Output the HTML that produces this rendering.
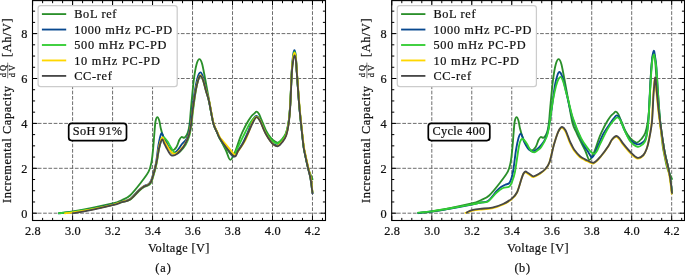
<!DOCTYPE html>
<html><head><meta charset="utf-8"><title>ICA</title>
<style>
html,body{margin:0;padding:0;background:#fff;}
body{width:685px;height:277px;overflow:hidden;}
svg{display:block;}
svg text{font-family:"Liberation Serif","DejaVu Serif",serif;font-size:12.3px;fill:#111;stroke:#111;stroke-width:0.22px;}
</style></head><body>
<svg width="685" height="277" viewBox="0 0 685 277">
<rect width="685" height="277" fill="#fff"/>
<g stroke="#484848" stroke-width="0.8" stroke-dasharray="3.7,1.6" fill="none"><line x1="72.60" y1="0.60" x2="72.60" y2="220.50"/><line x1="112.58" y1="0.60" x2="112.58" y2="220.50"/><line x1="152.56" y1="0.60" x2="152.56" y2="220.50"/><line x1="192.54" y1="0.60" x2="192.54" y2="220.50"/><line x1="232.52" y1="0.60" x2="232.52" y2="220.50"/><line x1="272.50" y1="0.60" x2="272.50" y2="220.50"/><line x1="312.48" y1="0.60" x2="312.48" y2="220.50"/><line x1="32.50" y1="213.20" x2="325.50" y2="213.20"/><line x1="32.50" y1="168.30" x2="325.50" y2="168.30"/><line x1="32.50" y1="123.40" x2="325.50" y2="123.40"/><line x1="32.50" y1="78.50" x2="325.50" y2="78.50"/><line x1="32.50" y1="33.60" x2="325.50" y2="33.60"/></g>
<path d="M59.00,213.20C61.30,212.92 67.30,212.37 72.80,211.50C78.30,210.63 85.37,209.33 92.00,208.00C98.63,206.67 107.60,204.83 112.60,203.50C117.60,202.17 119.10,201.33 122.00,200.00C124.90,198.67 126.83,198.42 130.00,195.50C133.17,192.58 137.90,186.47 141.00,182.50C144.10,178.53 146.85,175.12 148.60,171.70C150.35,168.28 150.73,165.95 151.50,162.00C152.27,158.05 152.72,152.83 153.20,148.00C153.68,143.17 154.02,137.42 154.40,133.00C154.78,128.58 155.02,124.13 155.50,121.50C155.98,118.87 156.67,117.32 157.30,117.20C157.93,117.08 158.72,118.92 159.30,120.80C159.88,122.68 160.10,125.72 160.80,128.50C161.50,131.28 162.63,135.08 163.50,137.50C164.37,139.92 165.17,141.42 166.00,143.00C166.83,144.58 167.42,145.78 168.50,147.00C169.58,148.22 171.17,150.30 172.50,150.30C173.83,150.30 175.37,148.72 176.50,147.00C177.63,145.28 178.47,141.67 179.30,140.00C180.13,138.33 180.60,137.40 181.50,137.00C182.40,136.60 183.65,138.33 184.70,137.60C185.75,136.87 186.97,135.03 187.80,132.60C188.63,130.17 189.17,127.10 189.70,123.00C190.23,118.90 190.32,115.17 191.00,108.00C191.68,100.83 192.88,87.25 193.80,80.00C194.72,72.75 195.58,67.98 196.50,64.50C197.42,61.02 198.38,59.27 199.30,59.10C200.22,58.93 201.05,60.35 202.00,63.50C202.95,66.65 203.83,71.92 205.00,78.00C206.17,84.08 207.62,92.50 209.00,100.00C210.38,107.50 211.97,117.67 213.30,123.00C214.63,128.33 215.93,129.52 217.00,132.00C218.07,134.48 218.20,134.82 219.70,137.90C221.20,140.98 224.23,146.85 226.00,150.50C227.77,154.15 228.73,159.72 230.30,159.80C231.87,159.88 233.70,154.88 235.40,151.00C237.10,147.12 238.92,140.50 240.50,136.50C242.08,132.50 243.57,129.67 244.90,127.00C246.23,124.33 247.38,122.33 248.50,120.50C249.62,118.67 250.65,117.15 251.60,116.00C252.55,114.85 253.37,114.32 254.20,113.60C255.03,112.88 255.80,111.63 256.60,111.70C257.40,111.77 258.20,112.70 259.00,114.00C259.80,115.30 260.20,116.70 261.40,119.50C262.60,122.30 264.60,127.68 266.20,130.80C267.80,133.92 269.42,136.35 271.00,138.20C272.58,140.05 274.53,141.18 275.70,141.90C276.87,142.62 276.92,142.98 278.00,142.50C279.08,142.02 280.87,140.58 282.20,139.00C283.53,137.42 284.93,135.83 286.00,133.00C287.07,130.17 287.90,126.67 288.60,122.00C289.30,117.33 289.67,113.33 290.20,105.00C290.73,96.67 291.30,79.83 291.80,72.00C292.30,64.17 292.75,61.00 293.20,58.00C293.65,55.00 294.07,54.00 294.50,54.00C294.93,54.00 295.42,55.00 295.80,58.00C296.18,61.00 296.42,66.67 296.80,72.00C297.18,77.33 297.67,84.17 298.10,90.00C298.53,95.83 298.92,101.50 299.40,107.00C299.88,112.50 300.33,116.67 301.00,123.00C301.67,129.33 302.80,140.17 303.40,145.00C304.00,149.83 303.80,148.10 304.60,152.00C305.40,155.90 306.88,163.87 308.20,168.40C309.52,172.93 311.78,177.40 312.50,179.20" fill="none" stroke="#2a8f2a" stroke-width="1.85" stroke-linejoin="round" stroke-linecap="round"/>
<path d="M59.00,213.40C61.30,213.17 67.30,212.73 72.80,212.00C78.30,211.27 85.37,210.25 92.00,209.00C98.63,207.75 107.60,205.75 112.60,204.50C117.60,203.25 119.10,202.42 122.00,201.50C124.90,200.58 127.17,200.92 130.00,199.00C132.83,197.08 136.67,192.17 139.00,190.00C141.33,187.83 142.58,186.88 144.00,186.00C145.42,185.12 146.50,185.28 147.50,184.70C148.50,184.12 149.25,183.62 150.00,182.50C150.75,181.38 151.00,181.25 152.00,178.00C153.00,174.75 154.92,168.50 156.00,163.00C157.08,157.50 157.62,149.90 158.50,145.00C159.38,140.10 160.47,134.93 161.30,133.60C162.13,132.27 162.65,135.52 163.50,137.00C164.35,138.48 165.32,140.33 166.40,142.50C167.48,144.67 168.90,148.17 170.00,150.00C171.10,151.83 171.83,153.33 173.00,153.50C174.17,153.67 175.50,152.58 177.00,151.00C178.50,149.42 180.40,146.00 182.00,144.00C183.60,142.00 185.35,141.33 186.60,139.00C187.85,136.67 188.68,134.00 189.50,130.00C190.32,126.00 190.67,121.17 191.50,115.00C192.33,108.83 193.48,99.25 194.50,93.00C195.52,86.75 196.62,80.93 197.60,77.50C198.58,74.07 199.50,72.48 200.40,72.40C201.30,72.32 202.07,74.07 203.00,77.00C203.93,79.93 205.00,86.00 206.00,90.00C207.00,94.00 207.78,95.50 209.00,101.00C210.22,106.50 211.97,117.83 213.30,123.00C214.63,128.17 215.93,129.50 217.00,132.00C218.07,134.50 218.20,135.50 219.70,138.00C221.20,140.50 223.83,143.97 226.00,147.00C228.17,150.03 231.03,155.20 232.70,156.20C234.37,157.20 234.45,154.95 236.00,153.00C237.55,151.05 240.08,147.83 242.00,144.50C243.92,141.17 245.83,136.83 247.50,133.00C249.17,129.17 250.55,124.33 252.00,121.50C253.45,118.67 254.87,116.25 256.20,116.00C257.53,115.75 258.87,118.17 260.00,120.00C261.13,121.83 262.00,124.75 263.00,127.00C264.00,129.25 264.83,131.33 266.00,133.50C267.17,135.67 268.75,138.25 270.00,140.00C271.25,141.75 272.23,143.13 273.50,144.00C274.77,144.87 276.18,145.62 277.60,145.20C279.02,144.78 280.60,143.20 282.00,141.50C283.40,139.80 284.90,138.08 286.00,135.00C287.10,131.92 287.90,128.00 288.60,123.00C289.30,118.00 289.67,113.83 290.20,105.00C290.73,96.17 291.32,78.33 291.80,70.00C292.28,61.67 292.67,58.30 293.10,55.00C293.53,51.70 293.97,50.20 294.40,50.20C294.83,50.20 295.30,51.53 295.70,55.00C296.10,58.47 296.40,65.17 296.80,71.00C297.20,76.83 297.67,84.00 298.10,90.00C298.53,96.00 298.92,101.50 299.40,107.00C299.88,112.50 300.33,116.67 301.00,123.00C301.67,129.33 302.80,140.17 303.40,145.00C304.00,149.83 303.80,148.10 304.60,152.00C305.40,155.90 307.22,164.07 308.20,168.40C309.18,172.73 309.78,173.85 310.50,178.00C311.22,182.15 312.17,190.75 312.50,193.30" fill="none" stroke="#08488f" stroke-width="1.85" stroke-linejoin="round" stroke-linecap="round"/>
<path d="M59.00,213.20C61.30,212.97 67.30,212.50 72.80,211.80C78.30,211.10 85.37,210.17 92.00,209.00C98.63,207.83 107.60,205.97 112.60,204.80C117.60,203.63 119.10,202.83 122.00,202.00C124.90,201.17 127.17,201.63 130.00,199.80C132.83,197.97 136.67,193.13 139.00,191.00C141.33,188.87 142.50,187.92 144.00,187.00C145.50,186.08 146.92,186.08 148.00,185.50C149.08,184.92 149.75,184.58 150.50,183.50C151.25,182.42 151.50,182.25 152.50,179.00C153.50,175.75 155.42,169.00 156.50,164.00C157.58,159.00 158.20,153.00 159.00,149.00C159.80,145.00 160.63,141.97 161.30,140.00C161.97,138.03 162.45,137.57 163.00,137.20C163.55,136.83 163.83,137.07 164.60,137.80C165.37,138.53 166.53,139.98 167.60,141.60C168.67,143.22 169.93,145.77 171.00,147.50C172.07,149.23 173.08,150.98 174.00,152.00C174.92,153.02 175.50,153.68 176.50,153.60C177.50,153.52 178.50,152.93 180.00,151.50C181.50,150.07 183.95,147.58 185.50,145.00C187.05,142.42 188.32,139.33 189.30,136.00C190.28,132.67 190.78,129.17 191.40,125.00C192.02,120.83 192.30,116.50 193.00,111.00C193.70,105.50 194.73,97.17 195.60,92.00C196.47,86.83 197.37,82.62 198.20,80.00C199.03,77.38 199.80,76.30 200.60,76.30C201.40,76.30 202.10,77.55 203.00,80.00C203.90,82.45 205.00,87.45 206.00,91.00C207.00,94.55 207.78,95.97 209.00,101.30C210.22,106.63 211.97,117.88 213.30,123.00C214.63,128.12 215.93,129.42 217.00,132.00C218.07,134.58 218.20,135.83 219.70,138.50C221.20,141.17 223.70,145.17 226.00,148.00C228.30,150.83 231.67,155.33 233.50,155.50C235.33,155.67 235.37,152.22 237.00,149.00C238.63,145.78 241.30,140.22 243.30,136.20C245.30,132.18 247.47,127.68 249.00,124.90C250.53,122.12 251.25,120.88 252.50,119.50C253.75,118.12 255.25,116.52 256.50,116.60C257.75,116.68 258.92,118.35 260.00,120.00C261.08,121.65 262.00,124.37 263.00,126.50C264.00,128.63 264.75,130.72 266.00,132.80C267.25,134.88 269.08,137.38 270.50,139.00C271.92,140.62 273.25,141.78 274.50,142.50C275.75,143.22 276.72,143.78 278.00,143.30C279.28,142.82 280.87,141.23 282.20,139.60C283.53,137.97 284.93,136.35 286.00,133.50C287.07,130.65 287.90,127.25 288.60,122.50C289.30,117.75 289.67,113.58 290.20,105.00C290.73,96.42 291.30,79.00 291.80,71.00C292.30,63.00 292.75,60.17 293.20,57.00C293.65,53.83 294.07,52.00 294.50,52.00C294.93,52.00 295.42,53.67 295.80,57.00C296.18,60.33 296.42,66.50 296.80,72.00C297.18,77.50 297.67,84.17 298.10,90.00C298.53,95.83 298.92,101.50 299.40,107.00C299.88,112.50 300.33,116.67 301.00,123.00C301.67,129.33 302.80,140.17 303.40,145.00C304.00,149.83 303.80,148.10 304.60,152.00C305.40,155.90 307.22,164.07 308.20,168.40C309.18,172.73 309.78,173.98 310.50,178.00C311.22,182.02 312.17,190.08 312.50,192.50" fill="none" stroke="#32CD32" stroke-width="1.85" stroke-linejoin="round" stroke-linecap="round"/>
<path d="M65.00,213.30C66.30,213.15 68.30,213.07 72.80,212.40C77.30,211.73 85.37,210.57 92.00,209.30C98.63,208.03 107.60,206.05 112.60,204.80C117.60,203.55 119.10,202.72 122.00,201.80C124.90,200.88 127.17,201.20 130.00,199.30C132.83,197.40 136.67,192.55 139.00,190.40C141.33,188.25 142.53,187.30 144.00,186.40C145.47,185.50 146.75,185.60 147.80,185.00C148.85,184.40 149.55,183.92 150.30,182.80C151.05,181.68 151.30,181.55 152.30,178.30C153.30,175.05 155.18,168.52 156.30,163.30C157.42,158.08 158.05,151.28 159.00,147.00C159.95,142.72 161.08,138.52 162.00,137.60C162.92,136.68 163.33,139.60 164.50,141.50C165.67,143.40 167.63,147.02 169.00,149.00C170.37,150.98 171.53,152.65 172.70,153.40C173.87,154.15 174.75,154.07 176.00,153.50C177.25,152.93 178.65,151.67 180.20,150.00C181.75,148.33 183.83,146.08 185.30,143.50C186.77,140.92 188.05,137.75 189.00,134.50C189.95,131.25 190.38,128.00 191.00,124.00C191.62,120.00 191.95,116.00 192.70,110.50C193.45,105.00 194.57,96.20 195.50,91.00C196.43,85.80 197.47,81.92 198.30,79.30C199.13,76.68 199.72,75.27 200.50,75.30C201.28,75.33 202.08,76.97 203.00,79.50C203.92,82.03 204.97,86.92 206.00,90.50C207.03,94.08 207.95,95.58 209.20,101.00C210.45,106.42 212.15,117.83 213.50,123.00C214.85,128.17 216.18,129.50 217.30,132.00C218.42,134.50 219.25,136.50 220.20,138.00C221.15,139.50 221.18,138.87 223.00,141.00C224.82,143.13 229.07,148.48 231.10,150.80C233.13,153.12 233.88,155.03 235.20,154.90C236.52,154.77 237.38,152.30 239.00,150.00C240.62,147.70 243.23,144.20 244.90,141.10C246.57,138.00 247.72,134.58 249.00,131.40C250.28,128.22 251.35,124.40 252.60,122.00C253.85,119.60 255.27,117.25 256.50,117.00C257.73,116.75 258.92,118.75 260.00,120.50C261.08,122.25 262.00,125.25 263.00,127.50C264.00,129.75 264.83,131.83 266.00,134.00C267.17,136.17 268.75,138.75 270.00,140.50C271.25,142.25 272.33,143.58 273.50,144.50C274.67,145.42 275.58,146.42 277.00,146.00C278.42,145.58 280.50,143.75 282.00,142.00C283.50,140.25 284.90,138.58 286.00,135.50C287.10,132.42 287.90,128.50 288.60,123.50C289.30,118.50 289.67,114.25 290.20,105.50C290.73,96.75 291.32,78.92 291.80,71.00C292.28,63.08 292.65,61.00 293.10,58.00C293.55,55.00 294.03,53.00 294.50,53.00C294.97,53.00 295.50,54.83 295.90,58.00C296.30,61.17 296.50,66.67 296.90,72.00C297.30,77.33 297.85,84.17 298.30,90.00C298.75,95.83 299.12,101.50 299.60,107.00C300.08,112.50 300.52,116.67 301.20,123.00C301.88,129.33 303.08,140.17 303.70,145.00C304.32,149.83 304.10,148.10 304.90,152.00C305.70,155.90 307.52,164.07 308.50,168.40C309.48,172.73 310.13,174.07 310.80,178.00C311.47,181.93 312.22,189.67 312.50,192.00" fill="none" stroke="#FFD700" stroke-width="1.85" stroke-linejoin="round" stroke-linecap="round"/>
<path d="M72.80,213.20C76.00,212.63 85.37,211.13 92.00,209.80C98.63,208.47 107.60,206.47 112.60,205.20C117.60,203.93 119.10,203.13 122.00,202.20C124.90,201.27 127.17,201.53 130.00,199.60C132.83,197.67 136.67,192.77 139.00,190.60C141.33,188.43 142.53,187.50 144.00,186.60C145.47,185.70 146.75,185.80 147.80,185.20C148.85,184.60 149.55,184.12 150.30,183.00C151.05,181.88 151.30,181.75 152.30,178.50C153.30,175.25 155.18,168.50 156.30,163.50C157.42,158.50 158.05,152.50 159.00,148.50C159.95,144.50 161.17,140.42 162.00,139.50C162.83,138.58 163.27,141.63 164.00,143.00C164.73,144.37 165.57,146.12 166.40,147.70C167.23,149.28 168.17,151.23 169.00,152.50C169.83,153.77 170.37,154.88 171.40,155.30C172.43,155.72 173.73,155.72 175.20,155.00C176.67,154.28 178.52,152.83 180.20,151.00C181.88,149.17 183.83,146.67 185.30,144.00C186.77,141.33 188.05,138.17 189.00,135.00C189.95,131.83 190.40,129.00 191.00,125.00C191.60,121.00 191.85,116.58 192.60,111.00C193.35,105.42 194.55,96.70 195.50,91.50C196.45,86.30 197.48,82.42 198.30,79.80C199.12,77.18 199.62,75.77 200.40,75.80C201.18,75.83 202.07,77.47 203.00,80.00C203.93,82.53 205.00,87.47 206.00,91.00C207.00,94.53 207.78,95.83 209.00,101.20C210.22,106.57 211.97,118.03 213.30,123.20C214.63,128.37 215.93,129.68 217.00,132.20C218.07,134.72 218.20,135.78 219.70,138.30C221.20,140.82 223.55,144.27 226.00,147.30C228.45,150.33 232.40,155.88 234.40,156.50C236.40,157.12 236.65,153.02 238.00,151.00C239.35,148.98 240.82,147.40 242.50,144.40C244.18,141.40 246.35,136.68 248.10,133.00C249.85,129.32 251.60,124.93 253.00,122.30C254.40,119.67 255.33,117.42 256.50,117.20C257.67,116.98 258.92,119.23 260.00,121.00C261.08,122.77 262.00,125.60 263.00,127.80C264.00,130.00 264.83,132.07 266.00,134.20C267.17,136.33 268.75,138.87 270.00,140.60C271.25,142.33 272.17,143.67 273.50,144.60C274.83,145.53 276.52,146.63 278.00,146.20C279.48,145.77 281.03,143.78 282.40,142.00C283.77,140.22 285.15,138.58 286.20,135.50C287.25,132.42 288.02,128.50 288.70,123.50C289.38,118.50 289.77,114.08 290.30,105.50C290.83,96.92 291.40,79.58 291.90,72.00C292.40,64.42 292.85,62.78 293.30,60.00C293.75,57.22 294.17,55.30 294.60,55.30C295.03,55.30 295.53,57.05 295.90,60.00C296.27,62.95 296.43,67.92 296.80,73.00C297.17,78.08 297.67,84.75 298.10,90.50C298.53,96.25 298.92,102.00 299.40,107.50C299.88,113.00 300.33,117.17 301.00,123.50C301.67,129.83 302.80,140.67 303.40,145.50C304.00,150.33 303.80,148.62 304.60,152.50C305.40,156.38 307.22,164.47 308.20,168.80C309.18,173.13 309.78,174.42 310.50,178.50C311.22,182.58 312.17,190.83 312.50,193.30" fill="none" stroke="#474747" stroke-width="1.85" stroke-linejoin="round" stroke-linecap="round"/>
<g stroke="#000" stroke-width="1"><line x1="32.62" y1="220.50" x2="32.62" y2="215.70"/><line x1="32.62" y1="0.60" x2="32.62" y2="5.40"/><line x1="42.61" y1="220.50" x2="42.61" y2="217.90"/><line x1="42.61" y1="0.60" x2="42.61" y2="3.20"/><line x1="52.61" y1="220.50" x2="52.61" y2="217.90"/><line x1="52.61" y1="0.60" x2="52.61" y2="3.20"/><line x1="62.60" y1="220.50" x2="62.60" y2="217.90"/><line x1="62.60" y1="0.60" x2="62.60" y2="3.20"/><line x1="72.60" y1="220.50" x2="72.60" y2="215.70"/><line x1="72.60" y1="0.60" x2="72.60" y2="5.40"/><line x1="82.59" y1="220.50" x2="82.59" y2="217.90"/><line x1="82.59" y1="0.60" x2="82.59" y2="3.20"/><line x1="92.59" y1="220.50" x2="92.59" y2="217.90"/><line x1="92.59" y1="0.60" x2="92.59" y2="3.20"/><line x1="102.58" y1="220.50" x2="102.58" y2="217.90"/><line x1="102.58" y1="0.60" x2="102.58" y2="3.20"/><line x1="112.58" y1="220.50" x2="112.58" y2="215.70"/><line x1="112.58" y1="0.60" x2="112.58" y2="5.40"/><line x1="122.57" y1="220.50" x2="122.57" y2="217.90"/><line x1="122.57" y1="0.60" x2="122.57" y2="3.20"/><line x1="132.57" y1="220.50" x2="132.57" y2="217.90"/><line x1="132.57" y1="0.60" x2="132.57" y2="3.20"/><line x1="142.56" y1="220.50" x2="142.56" y2="217.90"/><line x1="142.56" y1="0.60" x2="142.56" y2="3.20"/><line x1="152.56" y1="220.50" x2="152.56" y2="215.70"/><line x1="152.56" y1="0.60" x2="152.56" y2="5.40"/><line x1="162.55" y1="220.50" x2="162.55" y2="217.90"/><line x1="162.55" y1="0.60" x2="162.55" y2="3.20"/><line x1="172.55" y1="220.50" x2="172.55" y2="217.90"/><line x1="172.55" y1="0.60" x2="172.55" y2="3.20"/><line x1="182.54" y1="220.50" x2="182.54" y2="217.90"/><line x1="182.54" y1="0.60" x2="182.54" y2="3.20"/><line x1="192.54" y1="220.50" x2="192.54" y2="215.70"/><line x1="192.54" y1="0.60" x2="192.54" y2="5.40"/><line x1="202.53" y1="220.50" x2="202.53" y2="217.90"/><line x1="202.53" y1="0.60" x2="202.53" y2="3.20"/><line x1="212.53" y1="220.50" x2="212.53" y2="217.90"/><line x1="212.53" y1="0.60" x2="212.53" y2="3.20"/><line x1="222.53" y1="220.50" x2="222.53" y2="217.90"/><line x1="222.53" y1="0.60" x2="222.53" y2="3.20"/><line x1="232.52" y1="220.50" x2="232.52" y2="215.70"/><line x1="232.52" y1="0.60" x2="232.52" y2="5.40"/><line x1="242.51" y1="220.50" x2="242.51" y2="217.90"/><line x1="242.51" y1="0.60" x2="242.51" y2="3.20"/><line x1="252.51" y1="220.50" x2="252.51" y2="217.90"/><line x1="252.51" y1="0.60" x2="252.51" y2="3.20"/><line x1="262.50" y1="220.50" x2="262.50" y2="217.90"/><line x1="262.50" y1="0.60" x2="262.50" y2="3.20"/><line x1="272.50" y1="220.50" x2="272.50" y2="215.70"/><line x1="272.50" y1="0.60" x2="272.50" y2="5.40"/><line x1="282.50" y1="220.50" x2="282.50" y2="217.90"/><line x1="282.50" y1="0.60" x2="282.50" y2="3.20"/><line x1="292.49" y1="220.50" x2="292.49" y2="217.90"/><line x1="292.49" y1="0.60" x2="292.49" y2="3.20"/><line x1="302.49" y1="220.50" x2="302.49" y2="217.90"/><line x1="302.49" y1="0.60" x2="302.49" y2="3.20"/><line x1="312.48" y1="220.50" x2="312.48" y2="215.70"/><line x1="312.48" y1="0.60" x2="312.48" y2="5.40"/><line x1="322.48" y1="220.50" x2="322.48" y2="217.90"/><line x1="322.48" y1="0.60" x2="322.48" y2="3.20"/><line x1="32.50" y1="213.20" x2="37.30" y2="213.20"/><line x1="325.50" y1="213.20" x2="320.70" y2="213.20"/><line x1="32.50" y1="201.97" x2="35.10" y2="201.97"/><line x1="325.50" y1="201.97" x2="322.90" y2="201.97"/><line x1="32.50" y1="190.75" x2="35.10" y2="190.75"/><line x1="325.50" y1="190.75" x2="322.90" y2="190.75"/><line x1="32.50" y1="179.52" x2="35.10" y2="179.52"/><line x1="325.50" y1="179.52" x2="322.90" y2="179.52"/><line x1="32.50" y1="168.30" x2="37.30" y2="168.30"/><line x1="325.50" y1="168.30" x2="320.70" y2="168.30"/><line x1="32.50" y1="157.07" x2="35.10" y2="157.07"/><line x1="325.50" y1="157.07" x2="322.90" y2="157.07"/><line x1="32.50" y1="145.85" x2="35.10" y2="145.85"/><line x1="325.50" y1="145.85" x2="322.90" y2="145.85"/><line x1="32.50" y1="134.62" x2="35.10" y2="134.62"/><line x1="325.50" y1="134.62" x2="322.90" y2="134.62"/><line x1="32.50" y1="123.40" x2="37.30" y2="123.40"/><line x1="325.50" y1="123.40" x2="320.70" y2="123.40"/><line x1="32.50" y1="112.17" x2="35.10" y2="112.17"/><line x1="325.50" y1="112.17" x2="322.90" y2="112.17"/><line x1="32.50" y1="100.95" x2="35.10" y2="100.95"/><line x1="325.50" y1="100.95" x2="322.90" y2="100.95"/><line x1="32.50" y1="89.72" x2="35.10" y2="89.72"/><line x1="325.50" y1="89.72" x2="322.90" y2="89.72"/><line x1="32.50" y1="78.50" x2="37.30" y2="78.50"/><line x1="325.50" y1="78.50" x2="320.70" y2="78.50"/><line x1="32.50" y1="67.28" x2="35.10" y2="67.28"/><line x1="325.50" y1="67.28" x2="322.90" y2="67.28"/><line x1="32.50" y1="56.05" x2="35.10" y2="56.05"/><line x1="325.50" y1="56.05" x2="322.90" y2="56.05"/><line x1="32.50" y1="44.82" x2="35.10" y2="44.82"/><line x1="325.50" y1="44.82" x2="322.90" y2="44.82"/><line x1="32.50" y1="33.60" x2="37.30" y2="33.60"/><line x1="325.50" y1="33.60" x2="320.70" y2="33.60"/><line x1="32.50" y1="22.38" x2="35.10" y2="22.38"/><line x1="325.50" y1="22.38" x2="322.90" y2="22.38"/><line x1="32.50" y1="11.15" x2="35.10" y2="11.15"/><line x1="325.50" y1="11.15" x2="322.90" y2="11.15"/></g>
<rect x="32.50" y="0.60" width="293.00" height="219.90" fill="none" stroke="#000" stroke-width="1.1"/>
<text x="32.82" y="234.6" text-anchor="middle" textLength="15.7">2.8</text>
<text x="72.80" y="234.6" text-anchor="middle" textLength="15.7">3.0</text>
<text x="112.78" y="234.6" text-anchor="middle" textLength="15.7">3.2</text>
<text x="152.76" y="234.6" text-anchor="middle" textLength="15.7">3.4</text>
<text x="192.74" y="234.6" text-anchor="middle" textLength="15.7">3.6</text>
<text x="232.72" y="234.6" text-anchor="middle" textLength="15.7">3.8</text>
<text x="272.70" y="234.6" text-anchor="middle" textLength="15.7">4.0</text>
<text x="312.68" y="234.6" text-anchor="middle" textLength="15.7">4.2</text>
<text x="27.40" y="217.50" text-anchor="end">0</text>
<text x="27.40" y="172.60" text-anchor="end">2</text>
<text x="27.40" y="127.70" text-anchor="end">4</text>
<text x="27.40" y="82.80" text-anchor="end">6</text>
<text x="27.40" y="37.90" text-anchor="end">8</text>
<text x="147.90" y="251.6" textLength="61.5">Voltage [V]</text>
<text x="155.20" y="272.3" textLength="15.6">(a)</text>
<g transform="translate(10.60,203) rotate(-90)">
<text x="0" y="0" textLength="117">Incremental Capacity</text>
<text x="125.8" y="-4.4" style="font-size:8.4px" textLength="12.4">dQ</text>
<line x1="124.7" y1="-2.9" x2="140.4" y2="-2.9" stroke="#222" stroke-width="0.6"/>
<text x="125.8" y="4.0" style="font-size:8.4px" textLength="12.4">dV</text>
<text x="146" y="0" textLength="38.6">[Ah/V]</text>
</g>
<rect x="38.10" y="5.6" width="139.1" height="80.9" rx="2.6" ry="2.6" fill="#fff" fill-opacity="1" stroke="#ccc" stroke-width="1.25"/>
<line x1="41.90" y1="14.10" x2="66.20" y2="14.10" stroke="#2a8f2a" stroke-width="1.85"/>
<text x="74.20" y="18.30" textLength="42.2">BoL ref</text>
<line x1="41.90" y1="29.55" x2="66.20" y2="29.55" stroke="#08488f" stroke-width="1.85"/>
<text x="74.20" y="33.75" textLength="98.0">1000 mHz PC-PD</text>
<line x1="41.90" y1="45.00" x2="66.20" y2="45.00" stroke="#32CD32" stroke-width="1.85"/>
<text x="74.20" y="49.20" textLength="92.2">500 mHz PC-PD</text>
<line x1="41.90" y1="60.45" x2="66.20" y2="60.45" stroke="#FFD700" stroke-width="1.85"/>
<text x="74.20" y="64.65" textLength="85.6">10 mHz PC-PD</text>
<line x1="41.90" y1="75.90" x2="66.20" y2="75.90" stroke="#474747" stroke-width="1.85"/>
<text x="74.20" y="80.10" textLength="37.6">CC-ref</text>
<rect x="68.70" y="123.3" width="57.80" height="17.3" rx="3" ry="3" fill="#fff" stroke="#000" stroke-width="1.7"/>
<text x="72.80" y="135.1" textLength="49.3">SoH 91%</text>
<g stroke="#484848" stroke-width="0.8" stroke-dasharray="3.7,1.6" fill="none"><line x1="431.80" y1="0.60" x2="431.80" y2="220.50"/><line x1="471.78" y1="0.60" x2="471.78" y2="220.50"/><line x1="511.76" y1="0.60" x2="511.76" y2="220.50"/><line x1="551.74" y1="0.60" x2="551.74" y2="220.50"/><line x1="591.72" y1="0.60" x2="591.72" y2="220.50"/><line x1="631.70" y1="0.60" x2="631.70" y2="220.50"/><line x1="671.68" y1="0.60" x2="671.68" y2="220.50"/><line x1="391.70" y1="213.20" x2="684.50" y2="213.20"/><line x1="391.70" y1="168.30" x2="684.50" y2="168.30"/><line x1="391.70" y1="123.40" x2="684.50" y2="123.40"/><line x1="391.70" y1="78.50" x2="684.50" y2="78.50"/><line x1="391.70" y1="33.60" x2="684.50" y2="33.60"/></g>
<path d="M418.20,213.20C420.50,212.92 426.50,212.37 432.00,211.50C437.50,210.63 444.57,209.33 451.20,208.00C457.83,206.67 466.80,204.83 471.80,203.50C476.80,202.17 478.30,201.33 481.20,200.00C484.10,198.67 486.03,198.42 489.20,195.50C492.37,192.58 497.10,186.47 500.20,182.50C503.30,178.53 506.05,175.12 507.80,171.70C509.55,168.28 509.93,165.95 510.70,162.00C511.47,158.05 511.92,152.83 512.40,148.00C512.88,143.17 513.22,137.42 513.60,133.00C513.98,128.58 514.22,124.13 514.70,121.50C515.18,118.87 515.87,117.32 516.50,117.20C517.13,117.08 517.92,118.92 518.50,120.80C519.08,122.68 519.30,125.72 520.00,128.50C520.70,131.28 521.83,135.08 522.70,137.50C523.57,139.92 524.37,141.42 525.20,143.00C526.03,144.58 526.62,145.78 527.70,147.00C528.78,148.22 530.37,150.30 531.70,150.30C533.03,150.30 534.57,148.72 535.70,147.00C536.83,145.28 537.67,141.67 538.50,140.00C539.33,138.33 539.80,137.40 540.70,137.00C541.60,136.60 542.85,138.33 543.90,137.60C544.95,136.87 546.17,135.03 547.00,132.60C547.83,130.17 548.37,127.10 548.90,123.00C549.43,118.90 549.52,115.17 550.20,108.00C550.88,100.83 552.08,87.25 553.00,80.00C553.92,72.75 554.78,67.98 555.70,64.50C556.62,61.02 557.58,59.27 558.50,59.10C559.42,58.93 560.25,60.35 561.20,63.50C562.15,66.65 563.03,71.92 564.20,78.00C565.37,84.08 566.82,92.50 568.20,100.00C569.58,107.50 571.17,117.67 572.50,123.00C573.83,128.33 575.13,129.52 576.20,132.00C577.27,134.48 577.40,134.82 578.90,137.90C580.40,140.98 583.43,146.85 585.20,150.50C586.97,154.15 587.93,159.72 589.50,159.80C591.07,159.88 592.90,154.88 594.60,151.00C596.30,147.12 598.12,140.50 599.70,136.50C601.28,132.50 602.77,129.67 604.10,127.00C605.43,124.33 606.58,122.33 607.70,120.50C608.82,118.67 609.85,117.15 610.80,116.00C611.75,114.85 612.57,114.32 613.40,113.60C614.23,112.88 615.00,111.63 615.80,111.70C616.60,111.77 617.40,112.70 618.20,114.00C619.00,115.30 619.40,116.70 620.60,119.50C621.80,122.30 623.80,127.68 625.40,130.80C627.00,133.92 628.62,136.35 630.20,138.20C631.78,140.05 633.73,141.18 634.90,141.90C636.07,142.62 636.12,142.98 637.20,142.50C638.28,142.02 640.07,140.58 641.40,139.00C642.73,137.42 644.13,135.83 645.20,133.00C646.27,130.17 647.10,126.67 647.80,122.00C648.50,117.33 648.87,113.33 649.40,105.00C649.93,96.67 650.50,79.83 651.00,72.00C651.50,64.17 651.95,61.00 652.40,58.00C652.85,55.00 653.27,54.00 653.70,54.00C654.13,54.00 654.62,55.00 655.00,58.00C655.38,61.00 655.62,66.67 656.00,72.00C656.38,77.33 656.87,84.17 657.30,90.00C657.73,95.83 658.12,101.50 658.60,107.00C659.08,112.50 659.53,116.67 660.20,123.00C660.87,129.33 662.00,140.17 662.60,145.00C663.20,149.83 663.00,148.10 663.80,152.00C664.60,155.90 666.03,163.90 667.40,168.40C668.77,172.90 671.23,177.23 672.00,179.00" fill="none" stroke="#2a8f2a" stroke-width="1.85" stroke-linejoin="round" stroke-linecap="round"/>
<path d="M418.20,212.80C420.45,212.58 426.07,212.25 431.70,211.50C437.33,210.75 445.33,209.45 452.00,208.30C458.67,207.15 466.87,205.57 471.70,204.60C476.53,203.63 478.28,203.10 481.00,202.50C483.72,201.90 485.38,202.92 488.00,201.00C490.62,199.08 494.53,193.33 496.70,191.00C498.87,188.67 499.57,188.05 501.00,187.00C502.43,185.95 503.85,185.45 505.30,184.70C506.75,183.95 508.42,184.67 509.70,182.50C510.98,180.33 511.95,177.12 513.00,171.70C514.05,166.28 515.08,155.62 516.00,150.00C516.92,144.38 517.72,140.73 518.50,138.00C519.28,135.27 520.03,133.77 520.70,133.60C521.37,133.43 521.90,135.57 522.50,137.00C523.10,138.43 523.40,140.28 524.30,142.20C525.20,144.12 526.78,147.03 527.90,148.50C529.02,149.97 530.10,150.52 531.00,151.00C531.90,151.48 532.30,151.68 533.30,151.40C534.30,151.12 535.80,150.23 537.00,149.30C538.20,148.37 539.32,147.13 540.50,145.80C541.68,144.47 542.92,143.52 544.10,141.30C545.28,139.08 546.62,136.05 547.60,132.50C548.58,128.95 549.27,124.33 550.00,120.00C550.73,115.67 551.17,112.33 552.00,106.50C552.83,100.67 554.08,90.25 555.00,85.00C555.92,79.75 556.75,77.17 557.50,75.00C558.25,72.83 558.75,71.83 559.50,72.00C560.25,72.17 561.08,73.50 562.00,76.00C562.92,78.50 564.00,83.00 565.00,87.00C566.00,91.00 566.78,94.95 568.00,100.00C569.22,105.05 570.63,111.88 572.30,117.30C573.97,122.72 576.08,127.88 578.00,132.50C579.92,137.12 582.20,141.92 583.80,145.00C585.40,148.08 586.48,149.17 587.60,151.00C588.72,152.83 589.75,154.93 590.50,156.00C591.25,157.07 591.43,157.73 592.10,157.40C592.77,157.07 593.45,156.10 594.50,154.00C595.55,151.90 596.85,148.30 598.40,144.80C599.95,141.30 601.85,136.55 603.80,133.00C605.75,129.45 608.40,125.97 610.10,123.50C611.80,121.03 612.88,119.55 614.00,118.20C615.12,116.85 615.80,115.27 616.80,115.40C617.80,115.53 618.70,116.50 620.00,119.00C621.30,121.50 622.87,126.82 624.60,130.40C626.33,133.98 628.23,138.18 630.40,140.50C632.57,142.82 635.58,143.97 637.60,144.30C639.62,144.63 641.10,143.62 642.50,142.50C643.90,141.38 645.03,141.07 646.00,137.60C646.97,134.13 647.63,129.63 648.30,121.70C648.97,113.77 649.38,100.28 650.00,90.00C650.62,79.72 651.37,66.53 652.00,60.00C652.63,53.47 653.25,51.13 653.80,50.80C654.35,50.47 654.87,55.30 655.30,58.00C655.73,60.70 656.10,63.58 656.40,67.00C656.70,70.42 656.75,73.00 657.10,78.50C657.45,84.00 657.95,92.50 658.50,100.00C659.05,107.50 659.42,115.08 660.40,123.50C661.38,131.92 663.07,143.02 664.40,150.50C665.73,157.98 667.38,163.48 668.40,168.40C669.42,173.32 669.90,175.90 670.50,180.00C671.10,184.10 671.75,190.83 672.00,193.00" fill="none" stroke="#08488f" stroke-width="1.85" stroke-linejoin="round" stroke-linecap="round"/>
<path d="M418.20,212.60C420.45,212.38 426.07,212.07 431.70,211.30C437.33,210.53 445.33,209.15 452.00,208.00C458.67,206.85 466.87,205.32 471.70,204.40C476.53,203.48 478.28,202.98 481.00,202.50C483.72,202.02 485.38,203.17 488.00,201.50C490.62,199.83 494.20,194.75 496.70,192.50C499.20,190.25 500.95,188.95 503.00,188.00C505.05,187.05 507.50,187.80 509.00,186.80C510.50,185.80 511.00,184.52 512.00,182.00C513.00,179.48 513.95,177.03 515.00,171.70C516.05,166.37 517.47,154.95 518.30,150.00C519.13,145.05 519.38,143.87 520.00,142.00C520.62,140.13 521.33,139.13 522.00,138.80C522.67,138.47 523.17,139.13 524.00,140.00C524.83,140.87 525.90,142.28 527.00,144.00C528.10,145.72 529.40,148.92 530.60,150.30C531.80,151.68 532.97,152.35 534.20,152.30C535.43,152.25 536.80,150.93 538.00,150.00C539.20,149.07 539.97,148.87 541.40,146.70C542.83,144.53 545.33,140.28 546.60,137.00C547.87,133.72 548.27,131.00 549.00,127.00C549.73,123.00 550.33,117.50 551.00,113.00C551.67,108.50 552.17,104.50 553.00,100.00C553.83,95.50 555.08,89.50 556.00,86.00C556.92,82.50 557.73,80.50 558.50,79.00C559.27,77.50 559.85,76.67 560.60,77.00C561.35,77.33 562.10,78.50 563.00,81.00C563.90,83.50 565.08,88.67 566.00,92.00C566.92,95.33 567.32,96.57 568.50,101.00C569.68,105.43 570.98,112.35 573.10,118.60C575.22,124.85 578.63,133.38 581.20,138.50C583.77,143.62 586.70,146.92 588.50,149.30C590.30,151.68 590.95,152.05 592.00,152.80C593.05,153.55 593.88,154.27 594.80,153.80C595.72,153.33 596.60,151.65 597.50,150.00C598.40,148.35 598.55,147.33 600.20,143.90C601.85,140.47 605.30,133.13 607.40,129.40C609.50,125.67 611.13,123.50 612.80,121.50C614.47,119.50 616.12,117.57 617.40,117.40C618.68,117.23 619.30,118.33 620.50,120.50C621.70,122.67 622.95,126.90 624.60,130.40C626.25,133.90 628.23,138.77 630.40,141.50C632.57,144.23 635.58,146.30 637.60,146.80C639.62,147.30 641.10,145.80 642.50,144.50C643.90,143.20 645.03,142.75 646.00,139.00C646.97,135.25 647.63,129.83 648.30,122.00C648.97,114.17 649.38,101.83 650.00,92.00C650.62,82.17 651.37,69.25 652.00,63.00C652.63,56.75 653.25,54.83 653.80,54.50C654.35,54.17 654.87,58.58 655.30,61.00C655.73,63.42 656.10,66.00 656.40,69.00C656.70,72.00 656.75,73.83 657.10,79.00C657.45,84.17 657.95,92.58 658.50,100.00C659.05,107.42 659.42,115.08 660.40,123.50C661.38,131.92 663.07,143.02 664.40,150.50C665.73,157.98 667.38,163.48 668.40,168.40C669.42,173.32 669.90,175.90 670.50,180.00C671.10,184.10 671.75,190.83 672.00,193.00" fill="none" stroke="#32CD32" stroke-width="1.85" stroke-linejoin="round" stroke-linecap="round"/>
<path d="M465.50,212.80C466.12,212.62 468.00,212.12 469.20,211.75C470.40,211.38 470.95,210.92 472.70,210.55C474.45,210.18 476.48,209.92 479.70,209.55C482.92,209.18 488.17,209.15 492.00,208.35C495.83,207.55 499.45,206.25 502.70,204.75C505.95,203.25 509.13,201.35 511.50,199.35C513.87,197.35 515.27,196.10 516.90,192.75C518.53,189.40 520.25,182.33 521.30,179.25C522.35,176.17 522.55,175.42 523.20,174.25C523.85,173.08 524.45,172.33 525.20,172.25C525.95,172.17 526.78,173.17 527.70,173.75C528.62,174.33 529.75,175.20 530.70,175.75C531.65,176.30 531.98,177.30 533.40,177.05C534.82,176.80 537.27,175.47 539.20,174.25C541.13,173.03 543.32,171.67 545.00,169.75C546.68,167.83 547.85,166.82 549.30,162.75C550.75,158.68 552.25,150.42 553.70,145.35C555.15,140.28 556.68,135.28 558.00,132.35C559.32,129.42 560.40,127.98 561.60,127.75C562.80,127.52 563.93,128.73 565.20,130.95C566.47,133.17 568.17,138.58 569.20,141.05C570.23,143.52 570.57,144.13 571.40,145.75C572.23,147.37 572.82,148.88 574.20,150.75C575.58,152.62 577.95,155.40 579.70,156.95C581.45,158.50 583.37,159.30 584.70,160.05C586.03,160.80 586.20,160.90 587.70,161.45C589.20,162.00 591.53,164.13 593.70,163.35C595.87,162.57 598.30,159.52 600.70,156.75C603.10,153.98 606.27,149.50 608.10,146.75C609.93,144.00 610.35,141.92 611.70,140.25C613.05,138.58 614.87,136.83 616.20,136.75C617.53,136.67 618.62,138.52 619.70,139.75C620.78,140.98 620.97,141.98 622.70,144.15C624.43,146.32 627.67,150.35 630.10,152.75C632.53,155.15 635.13,158.05 637.30,158.55C639.47,159.05 641.58,157.27 643.10,155.75C644.62,154.23 645.47,151.95 646.40,149.45C647.33,146.95 647.82,145.25 648.70,140.75C649.58,136.25 650.95,129.95 651.70,122.45C652.45,114.95 652.67,103.12 653.20,95.75C653.73,88.38 654.35,78.75 654.90,78.25C655.45,77.75 655.93,87.33 656.50,92.75C657.07,98.17 657.70,105.45 658.30,110.75C658.90,116.05 659.13,117.75 660.10,124.55C661.07,131.35 662.77,144.12 664.10,151.55C665.43,158.98 667.08,164.28 668.10,169.15C669.12,174.02 669.60,176.65 670.20,180.75C670.80,184.85 671.45,191.58 671.70,193.75" fill="none" stroke="#FFD700" stroke-width="1.85" stroke-linejoin="round" stroke-linecap="round"/>
<path d="M466.70,212.60C467.17,212.33 468.45,211.47 469.50,211.00C470.55,210.53 471.25,210.17 473.00,209.80C474.75,209.43 476.78,209.17 480.00,208.80C483.22,208.43 488.47,208.40 492.30,207.60C496.13,206.80 499.75,205.50 503.00,204.00C506.25,202.50 509.43,200.60 511.80,198.60C514.17,196.60 515.57,195.35 517.20,192.00C518.83,188.65 520.55,181.58 521.60,178.50C522.65,175.42 522.85,174.67 523.50,173.50C524.15,172.33 524.75,171.58 525.50,171.50C526.25,171.42 527.08,172.42 528.00,173.00C528.92,173.58 530.05,174.45 531.00,175.00C531.95,175.55 532.28,176.55 533.70,176.30C535.12,176.05 537.57,174.72 539.50,173.50C541.43,172.28 543.62,170.92 545.30,169.00C546.98,167.08 548.15,166.07 549.60,162.00C551.05,157.93 552.55,149.67 554.00,144.60C555.45,139.53 556.98,134.53 558.30,131.60C559.62,128.67 560.70,127.23 561.90,127.00C563.10,126.77 564.23,127.98 565.50,130.20C566.77,132.42 568.47,137.83 569.50,140.30C570.53,142.77 570.87,143.38 571.70,145.00C572.53,146.62 573.12,148.13 574.50,150.00C575.88,151.87 578.25,154.65 580.00,156.20C581.75,157.75 583.67,158.55 585.00,159.30C586.33,160.05 586.50,160.15 588.00,160.70C589.50,161.25 591.83,163.38 594.00,162.60C596.17,161.82 598.60,158.77 601.00,156.00C603.40,153.23 606.57,148.75 608.40,146.00C610.23,143.25 610.65,141.17 612.00,139.50C613.35,137.83 615.17,136.08 616.50,136.00C617.83,135.92 618.92,137.77 620.00,139.00C621.08,140.23 621.27,141.23 623.00,143.40C624.73,145.57 627.97,149.60 630.40,152.00C632.83,154.40 635.43,157.30 637.60,157.80C639.77,158.30 641.88,156.52 643.40,155.00C644.92,153.48 645.77,151.20 646.70,148.70C647.63,146.20 648.12,144.50 649.00,140.00C649.88,135.50 651.25,129.20 652.00,121.70C652.75,114.20 652.97,102.37 653.50,95.00C654.03,87.63 654.65,78.00 655.20,77.50C655.75,77.00 656.23,86.58 656.80,92.00C657.37,97.42 658.00,104.70 658.60,110.00C659.20,115.30 659.43,117.00 660.40,123.80C661.37,130.60 663.07,143.37 664.40,150.80C665.73,158.23 667.38,163.53 668.40,168.40C669.42,173.27 669.90,175.90 670.50,180.00C671.10,184.10 671.75,190.83 672.00,193.00" fill="none" stroke="#474747" stroke-width="1.85" stroke-linejoin="round" stroke-linecap="round"/>
<g stroke="#000" stroke-width="1"><line x1="391.82" y1="220.50" x2="391.82" y2="215.70"/><line x1="391.82" y1="0.60" x2="391.82" y2="5.40"/><line x1="401.81" y1="220.50" x2="401.81" y2="217.90"/><line x1="401.81" y1="0.60" x2="401.81" y2="3.20"/><line x1="411.81" y1="220.50" x2="411.81" y2="217.90"/><line x1="411.81" y1="0.60" x2="411.81" y2="3.20"/><line x1="421.80" y1="220.50" x2="421.80" y2="217.90"/><line x1="421.80" y1="0.60" x2="421.80" y2="3.20"/><line x1="431.80" y1="220.50" x2="431.80" y2="215.70"/><line x1="431.80" y1="0.60" x2="431.80" y2="5.40"/><line x1="441.79" y1="220.50" x2="441.79" y2="217.90"/><line x1="441.79" y1="0.60" x2="441.79" y2="3.20"/><line x1="451.79" y1="220.50" x2="451.79" y2="217.90"/><line x1="451.79" y1="0.60" x2="451.79" y2="3.20"/><line x1="461.78" y1="220.50" x2="461.78" y2="217.90"/><line x1="461.78" y1="0.60" x2="461.78" y2="3.20"/><line x1="471.78" y1="220.50" x2="471.78" y2="215.70"/><line x1="471.78" y1="0.60" x2="471.78" y2="5.40"/><line x1="481.77" y1="220.50" x2="481.77" y2="217.90"/><line x1="481.77" y1="0.60" x2="481.77" y2="3.20"/><line x1="491.77" y1="220.50" x2="491.77" y2="217.90"/><line x1="491.77" y1="0.60" x2="491.77" y2="3.20"/><line x1="501.76" y1="220.50" x2="501.76" y2="217.90"/><line x1="501.76" y1="0.60" x2="501.76" y2="3.20"/><line x1="511.76" y1="220.50" x2="511.76" y2="215.70"/><line x1="511.76" y1="0.60" x2="511.76" y2="5.40"/><line x1="521.75" y1="220.50" x2="521.75" y2="217.90"/><line x1="521.75" y1="0.60" x2="521.75" y2="3.20"/><line x1="531.75" y1="220.50" x2="531.75" y2="217.90"/><line x1="531.75" y1="0.60" x2="531.75" y2="3.20"/><line x1="541.74" y1="220.50" x2="541.74" y2="217.90"/><line x1="541.74" y1="0.60" x2="541.74" y2="3.20"/><line x1="551.74" y1="220.50" x2="551.74" y2="215.70"/><line x1="551.74" y1="0.60" x2="551.74" y2="5.40"/><line x1="561.73" y1="220.50" x2="561.73" y2="217.90"/><line x1="561.73" y1="0.60" x2="561.73" y2="3.20"/><line x1="571.73" y1="220.50" x2="571.73" y2="217.90"/><line x1="571.73" y1="0.60" x2="571.73" y2="3.20"/><line x1="581.72" y1="220.50" x2="581.72" y2="217.90"/><line x1="581.72" y1="0.60" x2="581.72" y2="3.20"/><line x1="591.72" y1="220.50" x2="591.72" y2="215.70"/><line x1="591.72" y1="0.60" x2="591.72" y2="5.40"/><line x1="601.71" y1="220.50" x2="601.71" y2="217.90"/><line x1="601.71" y1="0.60" x2="601.71" y2="3.20"/><line x1="611.71" y1="220.50" x2="611.71" y2="217.90"/><line x1="611.71" y1="0.60" x2="611.71" y2="3.20"/><line x1="621.70" y1="220.50" x2="621.70" y2="217.90"/><line x1="621.70" y1="0.60" x2="621.70" y2="3.20"/><line x1="631.70" y1="220.50" x2="631.70" y2="215.70"/><line x1="631.70" y1="0.60" x2="631.70" y2="5.40"/><line x1="641.69" y1="220.50" x2="641.69" y2="217.90"/><line x1="641.69" y1="0.60" x2="641.69" y2="3.20"/><line x1="651.69" y1="220.50" x2="651.69" y2="217.90"/><line x1="651.69" y1="0.60" x2="651.69" y2="3.20"/><line x1="661.69" y1="220.50" x2="661.69" y2="217.90"/><line x1="661.69" y1="0.60" x2="661.69" y2="3.20"/><line x1="671.68" y1="220.50" x2="671.68" y2="215.70"/><line x1="671.68" y1="0.60" x2="671.68" y2="5.40"/><line x1="681.67" y1="220.50" x2="681.67" y2="217.90"/><line x1="681.67" y1="0.60" x2="681.67" y2="3.20"/><line x1="391.70" y1="213.20" x2="396.50" y2="213.20"/><line x1="684.50" y1="213.20" x2="679.70" y2="213.20"/><line x1="391.70" y1="201.97" x2="394.30" y2="201.97"/><line x1="684.50" y1="201.97" x2="681.90" y2="201.97"/><line x1="391.70" y1="190.75" x2="394.30" y2="190.75"/><line x1="684.50" y1="190.75" x2="681.90" y2="190.75"/><line x1="391.70" y1="179.52" x2="394.30" y2="179.52"/><line x1="684.50" y1="179.52" x2="681.90" y2="179.52"/><line x1="391.70" y1="168.30" x2="396.50" y2="168.30"/><line x1="684.50" y1="168.30" x2="679.70" y2="168.30"/><line x1="391.70" y1="157.07" x2="394.30" y2="157.07"/><line x1="684.50" y1="157.07" x2="681.90" y2="157.07"/><line x1="391.70" y1="145.85" x2="394.30" y2="145.85"/><line x1="684.50" y1="145.85" x2="681.90" y2="145.85"/><line x1="391.70" y1="134.62" x2="394.30" y2="134.62"/><line x1="684.50" y1="134.62" x2="681.90" y2="134.62"/><line x1="391.70" y1="123.40" x2="396.50" y2="123.40"/><line x1="684.50" y1="123.40" x2="679.70" y2="123.40"/><line x1="391.70" y1="112.17" x2="394.30" y2="112.17"/><line x1="684.50" y1="112.17" x2="681.90" y2="112.17"/><line x1="391.70" y1="100.95" x2="394.30" y2="100.95"/><line x1="684.50" y1="100.95" x2="681.90" y2="100.95"/><line x1="391.70" y1="89.72" x2="394.30" y2="89.72"/><line x1="684.50" y1="89.72" x2="681.90" y2="89.72"/><line x1="391.70" y1="78.50" x2="396.50" y2="78.50"/><line x1="684.50" y1="78.50" x2="679.70" y2="78.50"/><line x1="391.70" y1="67.28" x2="394.30" y2="67.28"/><line x1="684.50" y1="67.28" x2="681.90" y2="67.28"/><line x1="391.70" y1="56.05" x2="394.30" y2="56.05"/><line x1="684.50" y1="56.05" x2="681.90" y2="56.05"/><line x1="391.70" y1="44.82" x2="394.30" y2="44.82"/><line x1="684.50" y1="44.82" x2="681.90" y2="44.82"/><line x1="391.70" y1="33.60" x2="396.50" y2="33.60"/><line x1="684.50" y1="33.60" x2="679.70" y2="33.60"/><line x1="391.70" y1="22.38" x2="394.30" y2="22.38"/><line x1="684.50" y1="22.38" x2="681.90" y2="22.38"/><line x1="391.70" y1="11.15" x2="394.30" y2="11.15"/><line x1="684.50" y1="11.15" x2="681.90" y2="11.15"/></g>
<rect x="391.70" y="0.60" width="292.80" height="219.90" fill="none" stroke="#000" stroke-width="1.1"/>
<text x="392.02" y="234.6" text-anchor="middle" textLength="15.7">2.8</text>
<text x="432.00" y="234.6" text-anchor="middle" textLength="15.7">3.0</text>
<text x="471.98" y="234.6" text-anchor="middle" textLength="15.7">3.2</text>
<text x="511.96" y="234.6" text-anchor="middle" textLength="15.7">3.4</text>
<text x="551.94" y="234.6" text-anchor="middle" textLength="15.7">3.6</text>
<text x="591.92" y="234.6" text-anchor="middle" textLength="15.7">3.8</text>
<text x="631.90" y="234.6" text-anchor="middle" textLength="15.7">4.0</text>
<text x="671.88" y="234.6" text-anchor="middle" textLength="15.7">4.2</text>
<text x="386.60" y="217.50" text-anchor="end">0</text>
<text x="386.60" y="172.60" text-anchor="end">2</text>
<text x="386.60" y="127.70" text-anchor="end">4</text>
<text x="386.60" y="82.80" text-anchor="end">6</text>
<text x="386.60" y="37.90" text-anchor="end">8</text>
<text x="507.10" y="251.6" textLength="61.5">Voltage [V]</text>
<text x="514.40" y="272.3" textLength="15.6">(b)</text>
<g transform="translate(369.80,203) rotate(-90)">
<text x="0" y="0" textLength="117">Incremental Capacity</text>
<text x="125.8" y="-4.4" style="font-size:8.4px" textLength="12.4">dQ</text>
<line x1="124.7" y1="-2.9" x2="140.4" y2="-2.9" stroke="#222" stroke-width="0.6"/>
<text x="125.8" y="4.0" style="font-size:8.4px" textLength="12.4">dV</text>
<text x="146" y="0" textLength="38.6">[Ah/V]</text>
</g>
<rect x="397.30" y="5.6" width="139.1" height="80.9" rx="2.6" ry="2.6" fill="#fff" fill-opacity="1" stroke="#ccc" stroke-width="1.25"/>
<line x1="401.10" y1="14.10" x2="425.40" y2="14.10" stroke="#2a8f2a" stroke-width="1.85"/>
<text x="433.40" y="18.30" textLength="42.2">BoL ref</text>
<line x1="401.10" y1="29.55" x2="425.40" y2="29.55" stroke="#08488f" stroke-width="1.85"/>
<text x="433.40" y="33.75" textLength="98.0">1000 mHz PC-PD</text>
<line x1="401.10" y1="45.00" x2="425.40" y2="45.00" stroke="#32CD32" stroke-width="1.85"/>
<text x="433.40" y="49.20" textLength="92.2">500 mHz PC-PD</text>
<line x1="401.10" y1="60.45" x2="425.40" y2="60.45" stroke="#FFD700" stroke-width="1.85"/>
<text x="433.40" y="64.65" textLength="85.6">10 mHz PC-PD</text>
<line x1="401.10" y1="75.90" x2="425.40" y2="75.90" stroke="#474747" stroke-width="1.85"/>
<text x="433.40" y="80.10" textLength="37.6">CC-ref</text>
<rect x="428.30" y="123.3" width="61.50" height="17.3" rx="3" ry="3" fill="#fff" stroke="#000" stroke-width="1.7"/>
<text x="432.40" y="135.1" textLength="52.8">Cycle 400</text>
</svg>
</body></html>
